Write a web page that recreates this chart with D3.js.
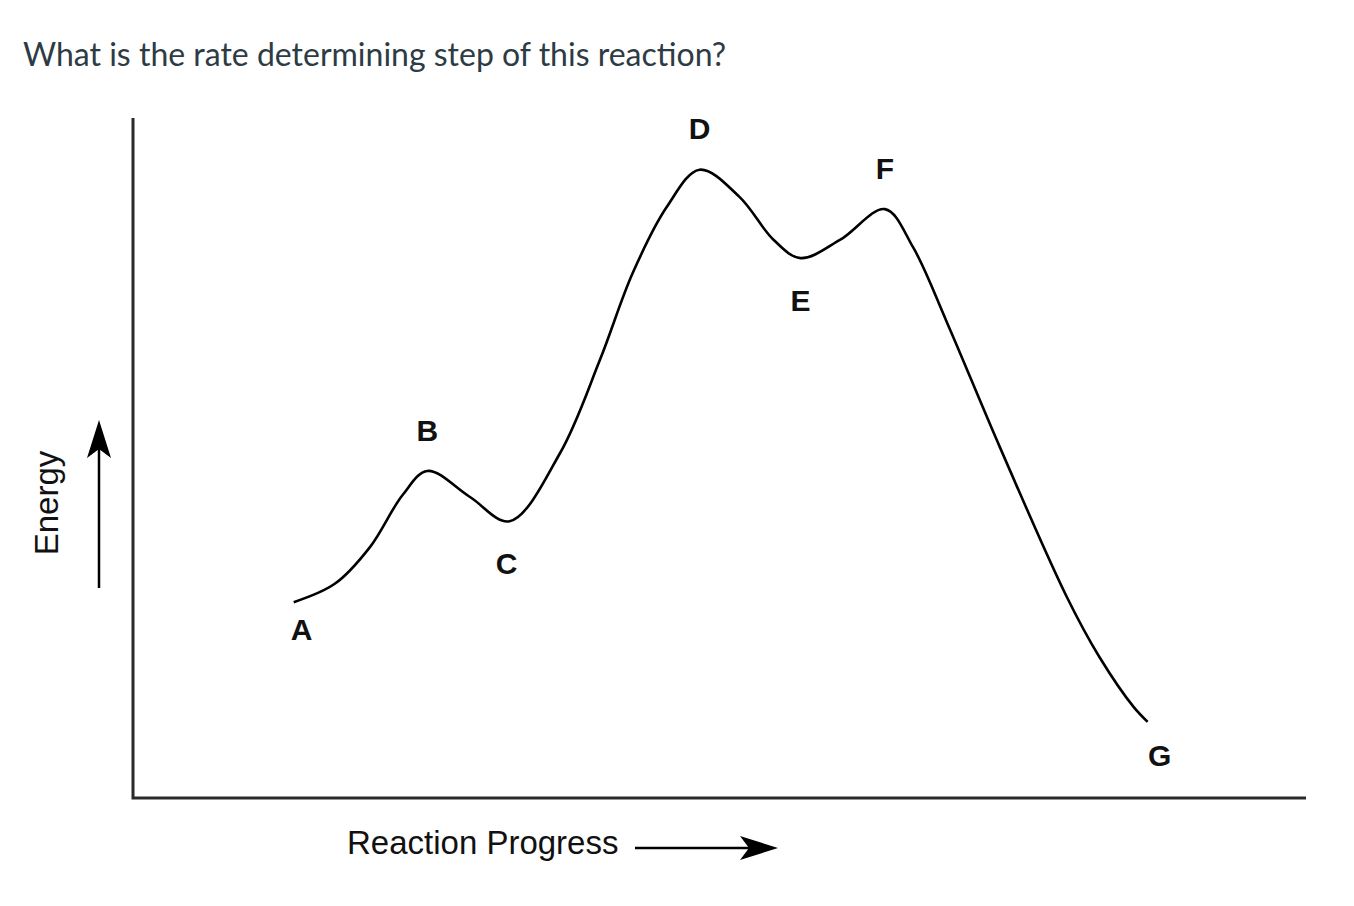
<!DOCTYPE html>
<html>
<head>
<meta charset="utf-8">
<script src="https://cdn.jsdelivr.net/npm/d3@7"></script>
<style>
  body { margin: 0; background: #fff; }
  svg { display: block; }
</style>
</head>
<body>
<div id="viz"></div>
<script>
// reaction energy diagram

var width = 1354, height = 906;

// curve samples: reaction progress (0-100) vs energy (0-100)
var progress = [13.7, 17.2, 20.2, 23.0, 25.1, 28.7, 32.1, 36.4, 39.8, 42.6, 45.5, 48.3,
                51.7, 54.6, 56.9, 60.3, 64.1, 66.5, 69.4, 73.9, 79.6, 82.4, 85.3, 86.5];
var energy   = [28.8, 31.5, 36.9, 44.6, 48.1, 44.3, 40.7, 50.7, 64.4, 77.2, 86.9, 92.4,
                88.4, 82.1, 79.4, 82.1, 86.6, 81.0, 69.9, 51.6, 29.6, 20.7, 13.4, 11.2];

// labelled states and which sample they sit on
var stateNames = ["A", "B", "C", "D", "E", "F", "G"];
var stateIndex = [0, 4, 6, 11, 14, 16, 23];
var stateSide  = ["below", "above", "below", "above", "below", "above", "below"];

var title = "What is the rate determining step of this reaction?";
var xLabel = "Reaction Progress";
var yLabel = "Energy";

var x = d3.scaleLinear().domain([0, 100]).range([133, 1306]);
var y = d3.scaleLinear().domain([0, 100]).range([798, 118]);

var svg = d3.select("#viz")
  .append("svg")
    .attr("width", width)
    .attr("height", height);

svg.append("text")
    .text(title)
    .attr("x", 23)
    .attr("y", 66)
    .style("font-family", "Lato")
    .style("font-size", "32px")
    .style("fill", "#2d3b45");

// axes: plain L shape, no ticks
svg.append("path")
    .attr("d", d3.line()([[x(0), y(100)], [x(0), y(0)], [x(100), y(0)]]))
    .attr("fill", "none")
    .attr("stroke", "#2a2a2a")
    .attr("stroke-width", 3);

var pts = progress.map(function (p, i) { return [p, energy[i]]; });

var line = d3.line()
    .x(function (d) { return x(d[0]); })
    .y(function (d) { return y(d[1]); })
    .curve(d3.curveCatmullRom.alpha(0.5));

svg.append("path")
    .datum(pts)
    .attr("d", line)
    .attr("fill", "none")
    .attr("stroke", "#000")
    .attr("stroke-width", 2.6);

// state letters
var dxFor = { A: 8, C: -3, G: 12 };
svg.selectAll("text.state")
  .data(stateNames)
  .enter()
  .append("text")
    .attr("class", "state")
    .text(function (d) { return d; })
    .attr("x", function (d, i) { return x(progress[stateIndex[i]]) + (dxFor[d] || 0); })
    .attr("y", function (d, i) {
      return y(energy[stateIndex[i]]) + (stateSide[i] == "above" ? -41 : (d == "A" ? 27 : d == "G" ? 33 : 42));
    })
    .attr("dy", "0.36em")
    .attr("text-anchor", "middle")
    .style("font-family", "Liberation Sans")
    .style("font-weight", "bold")
    .style("font-size", "30px")
    .style("fill", "#111");

// arrow head with notched back, pointing along +x
function arrowHead(tx, ty, angle) {
  var head = [[0, 0], [-38, -12], [-29, 0], [-38, 12]];
  var a = angle * Math.PI / 180;
  return d3.line().curve(d3.curveLinearClosed)(head.map(function (p) {
    return [tx + p[0] * Math.cos(a) - p[1] * Math.sin(a), ty + p[0] * Math.sin(a) + p[1] * Math.cos(a)];
  }));
}

// x label + arrow
svg.append("text")
    .text(xLabel)
    .attr("x", 347)
    .attr("y", 854)
    .style("font-family", "Liberation Sans")
    .style("font-size", "33px")
    .style("fill", "#111");

svg.append("line")
    .attr("x1", 635).attr("y1", 848)
    .attr("x2", 750).attr("y2", 848)
    .attr("stroke", "#000")
    .attr("stroke-width", 2.5);
svg.append("path")
    .attr("d", arrowHead(778, 848, 0))
    .attr("fill", "#000");

// y label + arrow
svg.append("text")
    .text(yLabel)
    .attr("transform", "translate(58,503) rotate(-90)")
    .attr("text-anchor", "middle")
    .style("font-family", "Liberation Sans")
    .style("font-size", "33px")
    .style("fill", "#111");

svg.append("line")
    .attr("x1", 99).attr("y1", 588)
    .attr("x2", 99).attr("y2", 445)
    .attr("stroke", "#000")
    .attr("stroke-width", 2.5);
svg.append("path")
    .attr("d", arrowHead(99, 420, -90))
    .attr("fill", "#000");

// The End
</script>
</body>
</html>
